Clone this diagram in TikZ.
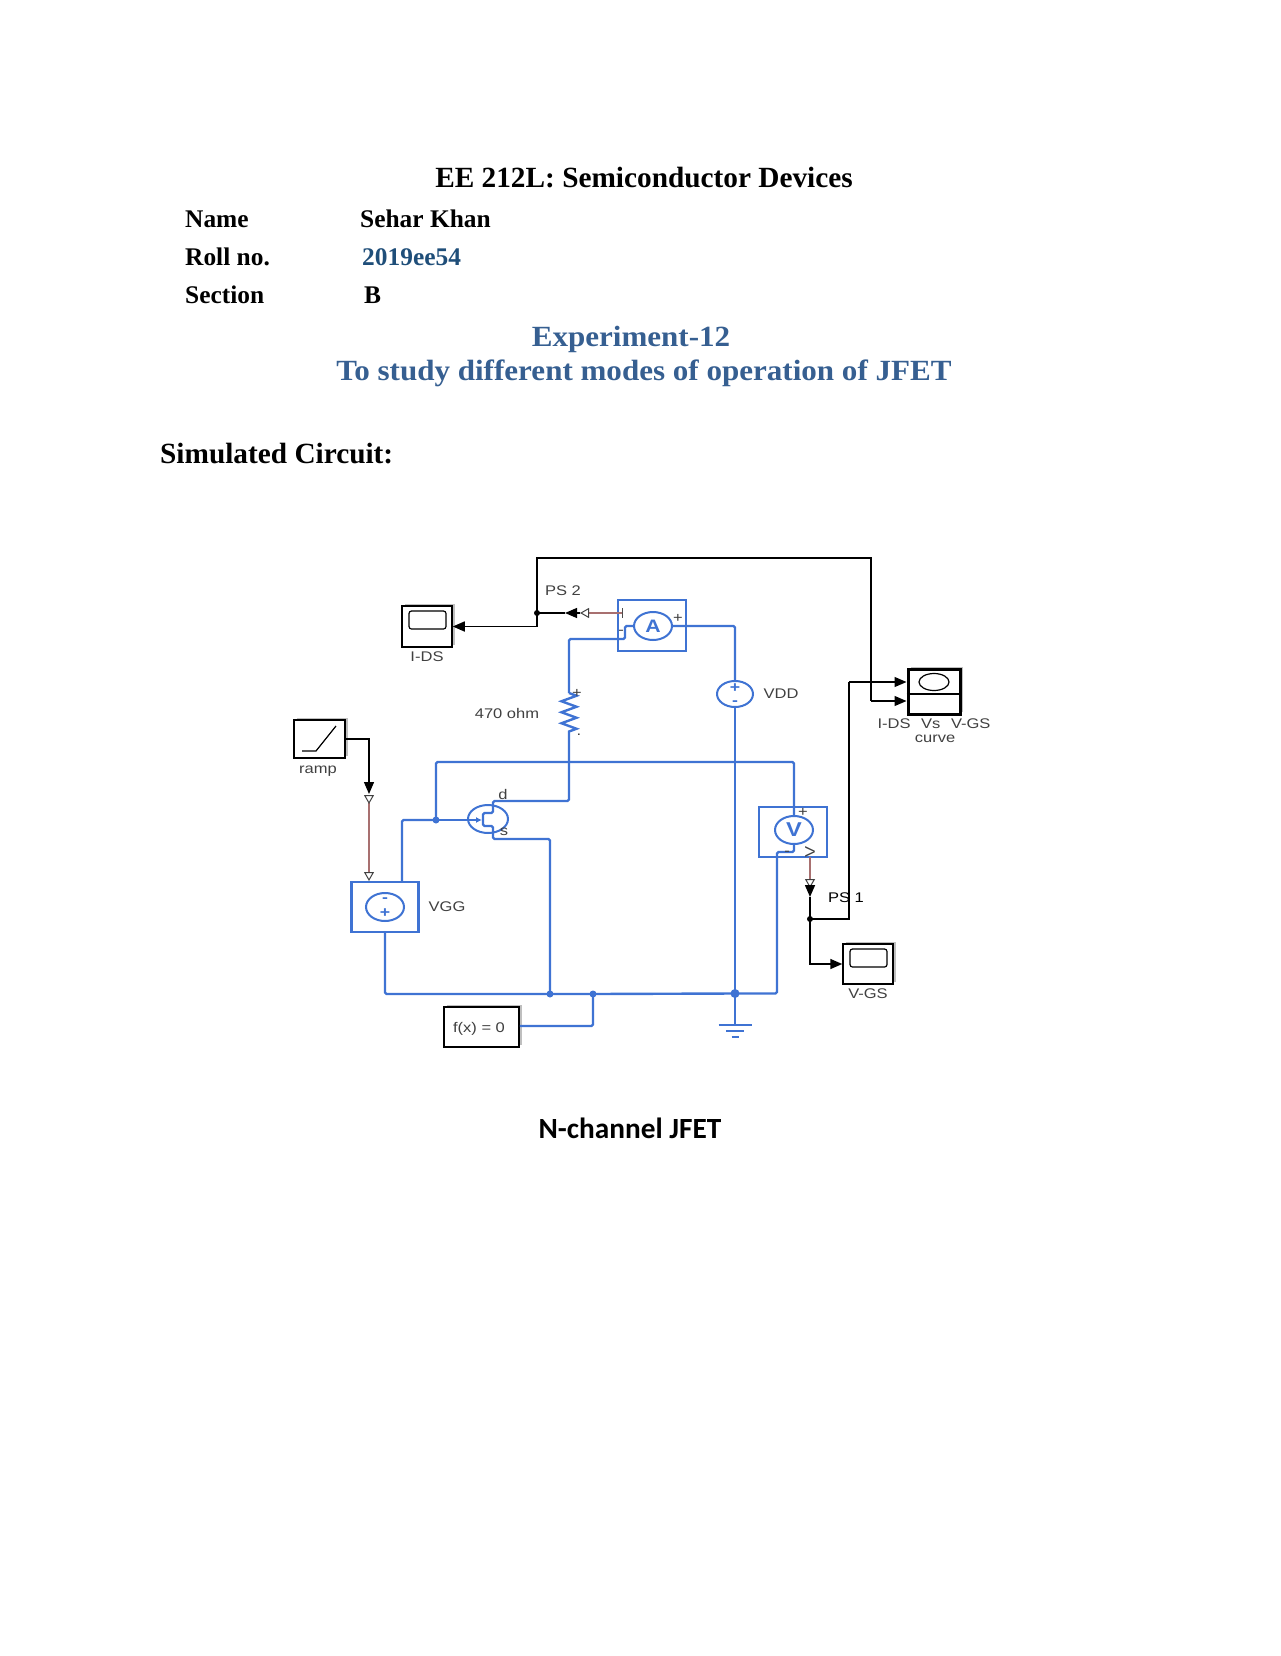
\documentclass[tikz,border=0pt]{standalone}
\usepackage{fontspec}
\setmainfont{Liberation Serif}
\newfontfamily\simfont[FakeStretch=1.18]{Liberation Sans}
\newfontfamily\headfont[FakeStretch=1.06]{Liberation Serif}
\newfontfamily\calfont{Carlito}
\usetikzlibrary{arrows.meta,shapes.geometric,decorations.pathmorphing,shadows}
\definecolor{wireblue}{HTML}{3F73D3}
\definecolor{headblue}{HTML}{365F91}
\definecolor{rollblue}{HTML}{1F4E79}
\definecolor{portbrown}{HTML}{A87070}
\tikzset{
  bodytext/.style={font=\fontsize{25.4}{30}\selectfont\bfseries, anchor=west, inner sep=0},
  headtext/.style={font=\headfont\fontsize{29.3}{34}\selectfont\bfseries, text=headblue, inner sep=0},
  simlabel/.style={font=\simfont\fontsize{14}{16}\selectfont, text=black!75, inner sep=0},
  signlabel/.style={font=\simfont\fontsize{15}{16}\selectfont\bfseries, text=wireblue, inner sep=0},
  elecbox/.style={draw=wireblue, line width=2.2pt, rectangle, inner sep=0, fill=white},
  meter/.style={draw=wireblue, line width=2pt, ellipse, inner sep=0, minimum width=38pt, minimum height=28pt},
  scopebox/.style={draw=black, line width=1.5pt, fill=white, rectangle, inner sep=0, drop shadow={shadow xshift=2.5pt, shadow yshift=2.5pt, opacity=.5}},
  dot/.style={circle, fill=#1, draw=none, inner sep=0, minimum size=7pt},
  elec/.style={draw=wireblue, line width=2.4pt, rounded corners=1.5pt},
  sig/.style={draw=black, line width=1.6pt},
  tipsig/.style={-{Triangle[length=12pt,width=10pt]}},
  ps/.style={draw=portbrown, line width=1.2pt},
  openport/.tip={Triangle[length=9pt,width=10pt,fill=white,color=black!75,line width=1pt]}
}
\begin{document}
\begin{tikzpicture}[x=1pt,y=-1pt]
  \useasboundingbox (0,0) rectangle (1280,1656);

  % Header
  \node (title) at (644,178) [font=\fontsize{29.3}{34}\selectfont\bfseries, inner sep=0] {EE 212L: Semiconductor Devices};
  \node (name) at (185,219) [bodytext] {Name};
  \node (nameval) at (360,219) [bodytext] {Sehar Khan};
  \node (roll) at (185,257) [bodytext] {Roll no.};
  \node (rollval) at (362,257) [bodytext, text=rollblue] {2019ee54};
  \node (sect) at (185,295) [bodytext] {Section};
  \node (sectval) at (364,295) [bodytext] {B};
  \node (expno) at (631,339.5) [headtext] {Experiment-12};
  \node (aim) at (644,373.5) [headtext] {To study different modes of operation of JFET};
  \node (simhead) at (160,454) [font=\fontsize{29.3}{34}\selectfont\bfseries, anchor=west, inner sep=0] {Simulated Circuit:};
  \node (caption) at (630,1128) [font=\calfont\fontsize{29.3}{34}\selectfont\bfseries, inner sep=0] {N-channel JFET};

  % Blocks
  \node (scopeI) at (427,626.5) [scopebox, minimum width=50pt, minimum height=41pt] {};
  \node (scopeIscr) at (427.5,620) [draw, line width=1.2pt, rounded corners=2.5pt, minimum width=37pt, minimum height=18pt, inner sep=0] {};
  \node (scopeV) at (868,964) [scopebox, minimum width=50pt, minimum height=40pt] {};
  \node (scopeVscr) at (868.5,958) [draw, line width=1.2pt, rounded corners=2.5pt, minimum width=37pt, minimum height=18pt, inner sep=0] {};
  \node (scopeC) at (934,691.5) [scopebox, line width=3pt, minimum width=52pt, minimum height=45pt] {};
  \node (scopeCeye) at (934,682) [draw, line width=1.2pt, ellipse, minimum width=30pt, minimum height=17pt, inner sep=0] {};
  \node (ramp) at (319.5,739) [scopebox, minimum width=51pt, minimum height=38pt] {};
  \node (fcn) at (481.5,1027) [scopebox, minimum width=75pt, minimum height=40pt] {};
  \node (ammeter) at (652,625.5) [elecbox, minimum width=68pt, minimum height=51pt] {};
  \node (voltm) at (793,832) [elecbox, minimum width=68pt, minimum height=50pt] {};
  \node (vgg) at (385,907) [elecbox, minimum width=67pt, minimum height=50pt] {};

  % Round symbols
  \node (amA) at (653,626) [meter, font=\simfont\fontsize{18}{18}\selectfont\bfseries, text=wireblue] {A};
  \node (voV) at (794,830) [meter, font=\simfont\fontsize{20}{20}\selectfont\bfseries, text=wireblue] {V};
  \node (vggc) at (385,907) [meter] {};
  \node (vddc) at (735,694) [meter, minimum width=36pt, minimum height=26pt] {};
  \node (jfet) at (488,819) [meter, minimum width=40pt, minimum height=28pt] {};

  % Junctions and free ends
  \node (jgate) at (436,820) [dot=wireblue] {};
  \node (jsrc) at (550,994) [dot=wireblue] {};
  \node (jfcn) at (593,994) [dot=wireblue] {};
  \node (jgnd) at (735,993.5) [dot=wireblue, minimum size=9pt] {};
  \node (jps2) at (537,613) [dot=black, minimum size=6pt] {};
  \node (jps1) at (810,919) [dot=black, minimum size=6pt] {};
  \coordinate (gnd) at (735,1025);
  \coordinate (rtop) at (569,693);
  \coordinate (rbot) at (569,732);
  \coordinate (draintop) at (493,801);
  \coordinate (srcbot) at (493,839);
  \coordinate (gatetip) at (482,820);
  \coordinate (amport) at (622,613);
  \coordinate (amneg) at (625,639);
  \coordinate (ps2a) at (580,613);
  \coordinate (ps2b) at (565,613);
  \coordinate (rampa) at (369,795);
  \coordinate (rampb) at (369,881);
  \coordinate (rampc) at (369,794);
  \coordinate (voport) at (810,857);
  \coordinate (ps1a) at (810,888);
  \coordinate (ps1b) at (810,897);
  \coordinate (volneg) at (794,852);

  % Electrical wires
  \draw[elec] (amA.east) -- (735,626) -- (vddc.north);
  \draw[elec] (vddc.south) -- (jgnd.center) -- (gnd);
  \draw[elec] (amA.west) -- (amA.west -| amneg) -- (amneg) -- (rtop |- amneg) -- (rtop);
  \draw[elec, rounded corners=0pt, decorate, decoration={zigzag, segment length=11pt, amplitude=7.5pt}] (rtop) -- (rbot);
  \draw[elec] (rbot) -- (rbot |- draintop) -- (draintop) -- (493,813) -- (483,813) -- (483,826) -- (493,826) -- (srcbot) -- (jsrc |- srcbot) -- (jsrc.center);
  \draw[elec] (jgate.center) -- (436,762) -- (794,762) -- (voV.north);
  \draw[elec] (vgg.north -| 402,0) -- (402,820) -- (jgate.center);
  \draw[elec, -{Latex[length=6pt,width=6pt]}] (jgate.center) -- (gatetip);
  \draw[elec] (vgg.south) -- (385,994) -- (jsrc.center) -- (jfcn.center) -- (jgnd.center);
  \draw[elec] (jfcn.center) -- (593,1026) -- (fcn.east |- 0,1026);
  \draw[elec] (voV.south) -- (volneg) -- (777,852) -- (777,993.5) -- (jgnd.center);

  % Ground
  \foreach \halfw/\ypos in {16.5/1025,9/1031,3.5/1037}
    \draw[draw=wireblue, line width=1.6pt] ([xshift=-\halfw pt]gnd |- 0,\ypos) -- ([xshift=\halfw pt]gnd |- 0,\ypos);

  % Signal wires
  \draw[sig, tipsig] (jps2.center) |- (scopeI.east);
  \draw[sig, line width=1.2pt] (ps2b) -- (jps2.center);
  \draw[sig, line width=1.2pt, tipsig] (ps2a) -- (ps2b);
  \draw[ps, -{openport}] (amport) -- (ps2a);
  \draw[sig, line width=1.3pt, tipsig] (ramp.east) -| (rampc);
  \draw[ps, {openport[reversed]}-{openport}] (rampa) -- (rampb);
  \draw[ps, -{openport}] (voport) -- (ps1a);
  \draw[sig, tipsig] (ps1a) -- (ps1b);
  \draw[sig] (ps1b) -- (jps1.center);
  \draw[sig, tipsig] (jps1.center) |- (scopeV.west);
  \draw[sig, line width=1.2pt] (jps1.center) -| (849,682);
  \draw[sig, line width=1.2pt, tipsig] (849,682) -- (scopeC.west |- 0,682);
  \draw[sig, line width=1.2pt] (jps2.center) -- (537,558) -- (871,558) -- (871,701);
  \draw[sig, line width=1.2pt, tipsig] (871,701) -- (scopeC.west |- 0,701);

  % Inner details
  \draw[line width=1.2pt] (302,751) -- (316,751) -- (336,726);
  \draw[line width=1.5pt] (scopeC.west |- 0,694) -- (scopeC.east |- 0,694);
  \draw[line width=1pt, black!70] (amport) ++(0,-5) -- ++(0,10);

  % Labels
  \node (lblps2) at (563,591) [simlabel] {PS 2};
  \node (lblps1) at (846,898) [simlabel, text=black] {PS 1};
  \node (lblids) at (427,657) [simlabel] {I-DS};
  \node (lblohm) at (507,713) [simlabel] {470 ohm};
  \node (lblramp) at (318,771) [simlabel] {ramp};
  \node (lblvdd) at (781,694) [simlabel] {VDD};
  \node (lblvgg) at (447,907) [simlabel] {VGG};
  \node (lblvgs) at (868,994) [simlabel] {V-GS};
  \node (lblcurve) at (934,724) [simlabel] {I-DS\hspace{6pt} Vs\hspace{6pt} V-GS};
  \node (lblcurveb) at (935,739) [simlabel] {curve};
  \node (lblfcn) at (479,1029) [simlabel] {f(x) = 0};
  \node (lbld) at (503,794) [simlabel] {d};
  \node (lbls) at (504,832) [simlabel] {s};
  \node (lblrp) at (577,693) [simlabel] {+};
  \node (lblrm) at (579,735) [simlabel] {.};
  \node (lblap) at (678,618) [simlabel] {+};
  \node (lblam) at (621,632) [simlabel] {-};
  \node (lblvp) at (803,812) [simlabel] {+};
  \node (lblvm) at (787,853) [simlabel] {-};
  \node (lblvo) at (810,852) [simlabel, rotate=90] {V};
  \node (lbldp) at (735,688) [signlabel] {+};
  \node (lbldm) at (735,703) [signlabel] {-};
  \node (lblgm) at (385,900) [signlabel] {-};
  \node (lblgp) at (385,913) [signlabel] {+};
\end{tikzpicture}
\end{document}
